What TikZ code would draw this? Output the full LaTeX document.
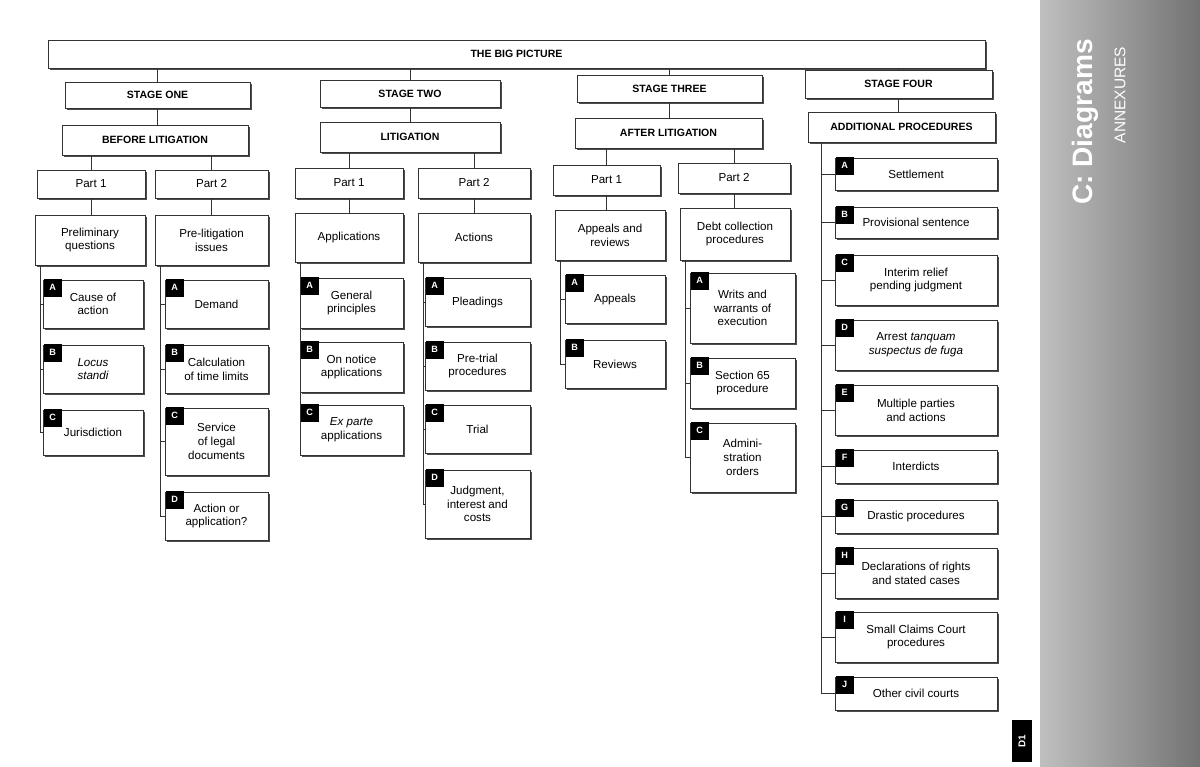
\documentclass[tikz,border=0pt]{standalone}
\usepackage{fontspec}
\setmainfont{Liberation Sans}
\usetikzlibrary{shadows}
\tikzset{
  box/.style={draw=black!80, fill=white, line width=0.9pt, align=center, inner sep=1pt,
    font=\fontsize{16.5}{19.5}\selectfont,
    drop shadow={shadow xshift=3pt, shadow yshift=-3pt, fill=black!70, opacity=1}},
  head/.style={box, font=\bfseries\fontsize{15}{17}\selectfont},
  badge/.style={fill=black, text=white, font=\bfseries\fontsize{13}{13}\selectfont,
    minimum width=0.9cm, minimum height=0.9cm, inner sep=0pt},
  link/.style={draw=black!80, line width=0.9pt}
}
% box by its top-left corner, width and height (pixels of the page)
\newcommand\pbox[7][box]{\node[#1, minimum width=#5*0.05cm, minimum height=#6*0.05cm]
  (#2) at ({#3+#5/2},{#4+#6/2}) {#7};}
\newcommand\tag[2]{\node[badge] at ([xshift=0.5cm,yshift=-0.4cm]#1.north west) {#2};}
\begin{document}
\begin{tikzpicture}[x=0.05cm, y=-0.05cm]
\useasboundingbox (0,0) rectangle (1200,766);
\fill[white] (0,0) rectangle (1200,766);
% side band
\shade[left color=black!25, right color=black!55] (1040,0) rectangle (1200,766);
\node[rotate=90, text=white, font=\fontsize{22}{22}\selectfont] at (1120,95) {ANNEXURES};
\node[rotate=90, text=white, font=\bfseries\fontsize{40}{40}\selectfont] at (1085,122) {C: Diagrams};
\fill[black] (1012,720) rectangle (1032,762);
\node[rotate=90, text=white, font=\bfseries\fontsize{14}{14}\selectfont] at (1022,741) {D1};

\pbox[head]{big}{48}{40}{937}{28}{THE BIG PICTURE}
% stage one
\pbox[head]{s1}{65}{82}{185}{26}{STAGE ONE}
\pbox[head]{l1}{62}{125}{186}{30}{BEFORE LITIGATION}
\pbox{p11}{37}{170}{108}{28}{Part 1}
\pbox{p12}{155}{170}{113}{28}{Part 2}
\pbox{q11}{35}{215}{110}{50}{Preliminary\\questions}
\pbox{q12}{155}{215}{113}{50}{Pre-litigation\\issues}
\pbox{c1a}{43}{280}{100}{48}{Cause of\\action}
\pbox{c1b}{43}{345}{100}{48}{\itshape Locus\\\itshape standi}
\pbox{c1c}{43}{410}{100}{45}{Jurisdiction}
\pbox{c2a}{165}{280}{103}{48}{Demand}
\pbox{c2b}{165}{345}{103}{48}{Calculation\\of time limits}
\pbox{c2c}{165}{408}{103}{67}{Service\\of legal\\documents}
\pbox{c2d}{165}{492}{103}{48}{Action or\\application?}
% stage two
\pbox[head]{s2}{320}{80}{180}{27}{STAGE TWO}
\pbox[head]{l2}{320}{122}{180}{30}{LITIGATION}
\pbox{p21}{295}{168}{108}{30}{Part 1}
\pbox{p22}{418}{168}{112}{30}{Part 2}
\pbox{q21}{295}{213}{108}{49}{Applications}
\pbox{q22}{418}{213}{112}{49}{Actions}
\pbox{c3a}{300}{278}{103}{50}{General\\principles}
\pbox{c3b}{300}{342}{103}{50}{On notice\\applications}
\pbox{c3c}{300}{405}{103}{50}{\itshape Ex parte\\applications}
\pbox{c4a}{425}{278}{105}{48}{Pleadings}
\pbox{c4b}{425}{342}{105}{48}{Pre-trial\\procedures}
\pbox{c4c}{425}{405}{105}{48}{Trial}
\pbox{c4d}{425}{470}{105}{68}{Judgment,\\interest and\\costs}
% stage three
\pbox[head]{s3}{577}{75}{185}{27}{STAGE THREE}
\pbox[head]{l3}{575}{118}{187}{30}{AFTER LITIGATION}
\pbox{p31}{553}{165}{107}{30}{Part 1}
\pbox{p32}{678}{163}{112}{30}{Part 2}
\pbox{q31}{555}{210}{110}{50}{Appeals and\\reviews}
\pbox{q32}{680}{208}{110}{52}{Debt collection\\procedures}
\pbox{c5a}{565}{275}{100}{48}{Appeals}
\pbox{c5b}{565}{340}{100}{48}{Reviews}
\pbox{c6a}{690}{273}{105}{70}{Writs and\\warrants of\\execution}
\pbox{c6b}{690}{358}{105}{50}{Section 65\\procedure}
\pbox{c6c}{690}{423}{105}{69}{Admini-\\stration\\orders}
% stage four
\pbox[head]{s4}{805}{70}{187}{28}{STAGE FOUR}
\pbox[head]{l4}{808}{112}{187}{30}{ADDITIONAL PROCEDURES}
\pbox{c7a}{835}{158}{162}{32}{Settlement}
\pbox{c7b}{835}{207}{162}{31}{Provisional sentence}
\pbox{c7c}{835}{255}{162}{50}{Interim relief\\pending judgment}
\pbox{c7d}{835}{320}{162}{50}{Arrest \itshape tanquam\\\itshape suspectus de fuga}
\pbox{c7e}{835}{385}{162}{50}{Multiple parties\\and actions}
\pbox{c7f}{835}{450}{162}{33}{Interdicts}
\pbox{c7g}{835}{500}{162}{33}{Drastic procedures}
\pbox{c7h}{835}{548}{162}{50}{Declarations of rights\\and stated cases}
\pbox{c7i}{835}{612}{162}{50}{Small Claims Court\\procedures}
\pbox{c7j}{835}{677}{162}{33}{Other civil courts}

% connectors
\foreach \s/\l in {s1/l1,s2/l2,s3/l3,s4/l4}{
  \draw[link] (big.south -| \s.north) -- (\s.north);
  \draw[link] (\s.south) -- (\s.south |- \l.north);
}
\foreach \l/\a/\b in {l1/p11/p12,l2/p21/p22,l3/p31/p32}{
  \draw[link] (\l.south -| \a.north) -- (\a.north);
  \draw[link] (\l.south -| \b.north) -- (\b.north);
}
\foreach \p/\q in {p11/q11,p12/q12,p21/q21,p22/q22,p31/q31,p32/q32}
  \draw[link] (\p.south) -- (\p.south |- \q.north);
\foreach \q/\c in {q11/c1a,q11/c1b,q11/c1c,q12/c2a,q12/c2b,q12/c2c,q12/c2d,
  q21/c3a,q21/c3b,q21/c3c,q22/c4a,q22/c4b,q22/c4c,q22/c4d,
  q31/c5a,q31/c5b,q32/c6a,q32/c6b,q32/c6c}
  \draw[link] ([xshift=0.3cm]\q.south west) |- (\c.west);
\foreach \i in {a,...,j}
  \draw[link] ([xshift=0.7cm]l4.south west) |- (c7\i.west);

% letters
\tag{c1a}{A} \tag{c1b}{B} \tag{c1c}{C}
\tag{c2a}{A} \tag{c2b}{B} \tag{c2c}{C} \tag{c2d}{D}
\tag{c3a}{A} \tag{c3b}{B} \tag{c3c}{C}
\tag{c4a}{A} \tag{c4b}{B} \tag{c4c}{C} \tag{c4d}{D}
\tag{c5a}{A} \tag{c5b}{B}
\tag{c6a}{A} \tag{c6b}{B} \tag{c6c}{C}
\tag{c7a}{A} \tag{c7b}{B} \tag{c7c}{C} \tag{c7d}{D} \tag{c7e}{E}
\tag{c7f}{F} \tag{c7g}{G} \tag{c7h}{H} \tag{c7i}{I} \tag{c7j}{J}
\end{tikzpicture}
\end{document}
